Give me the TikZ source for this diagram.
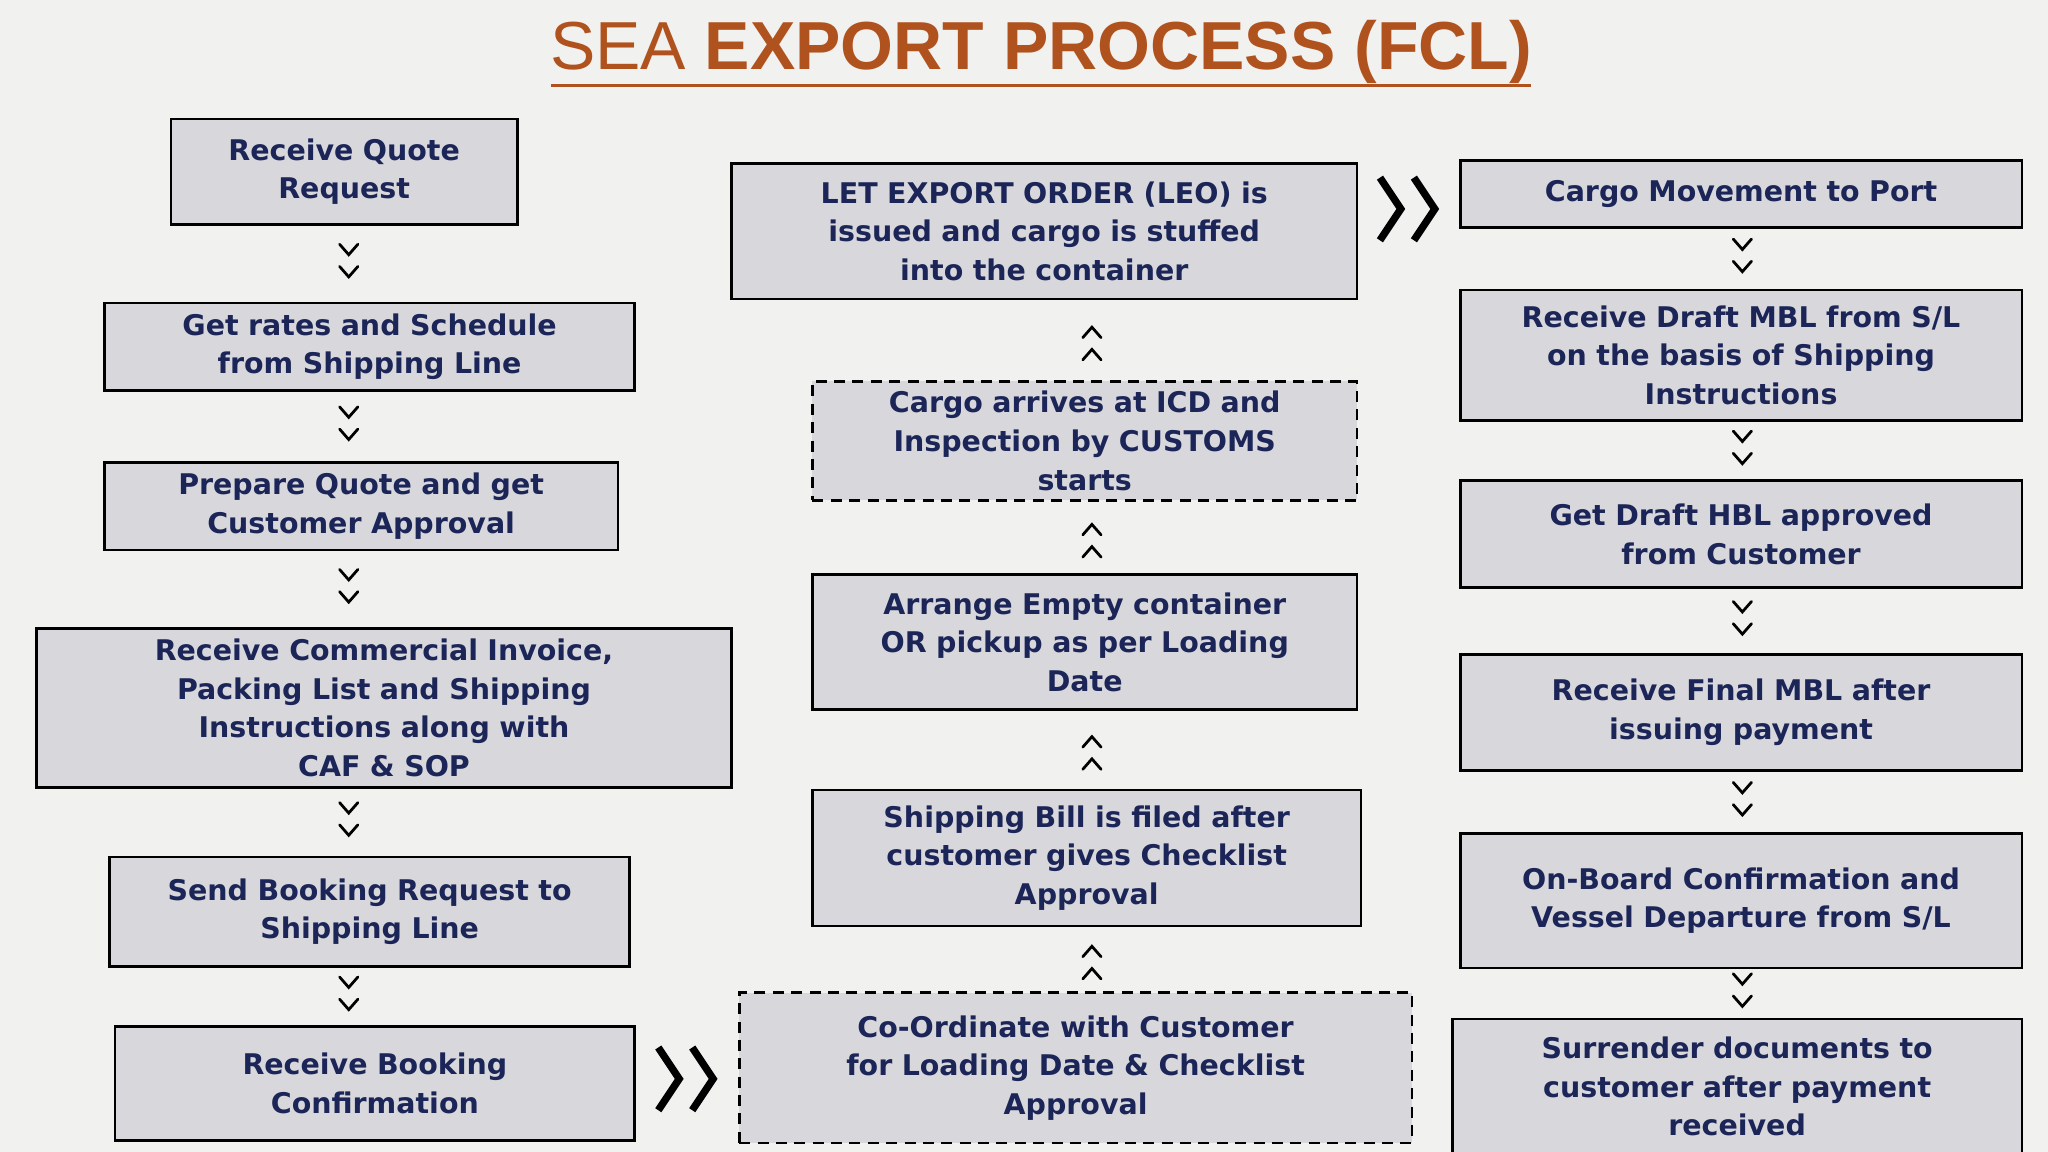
\documentclass[tikz,border=0pt]{standalone}
\usepackage{fontspec}
\setmainfont{DejaVu Sans}
\newfontfamily\titlefont{Liberation Sans}
\usetikzlibrary{calc}
\definecolor{navy}{HTML}{1C2557}
\definecolor{boxfill}{HTML}{D8D8DC}
\definecolor{bg}{HTML}{F1F1EF}
\definecolor{rust}{HTML}{B0521E}
\begin{document}
\begin{tikzpicture}[x=0.025cm,y=-0.025cm,
  bx/.style={draw=black,line width=1.4pt,fill=boxfill,text=navy,font=\bfseries\fontsize{15.5}{21}\selectfont,align=center,inner sep=0pt},
  dbx/.style={bx,dashed,dash pattern=on 6pt off 4pt},
  chev/.style={line width=1.5pt,line cap=round,line join=miter},
  dn/.pic={\draw[chev] (-7,-15)--(0,-7)--(7,-15); \draw[chev] (-7,2)--(0,10)--(7,2);},
  up/.pic={\draw[chev] (-7,15)--(0,7)--(7,15); \draw[chev] (-7,-2)--(0,-10)--(7,-2);},
  big/.pic={\draw[line width=4pt] (-22,-24)--(-6,0)--(-22,24); \draw[line width=4pt] (4,-24)--(20,0)--(4,24);}
]
\fill[bg] (0,0) rectangle (1568,882);
\useasboundingbox (0,0) rectangle (1568,882);
\node[text=rust,font=\titlefont\fontsize{37}{40}\selectfont] (title) at (797,40) {SEA \textbf{EXPORT PROCESS (FCL)}};
\draw[rust,line width=1.6pt] ($(title.south west)+(6,-4)$) -- ($(title.south east)+(-6,-4)$);
\def\bxn#1#2#3#4#5#6#7{\node[#1,minimum width={(#5-#3)*0.025cm},minimum height={(#6-#4)*0.025cm},text width={(#5-#3)*0.025cm-6pt}] (#2) at ({(#3+#5)/2},{(#4+#6)/2}) {#7};}
% left
\bxn{bx}{l1}{131}{91}{396}{172}{Receive Quote\\Request}
\bxn{bx}{l2}{80}{232}{486}{299}{Get rates and Schedule\\from Shipping Line}
\bxn{bx}{l3}{80}{354}{473}{421}{Prepare Quote and get\\Customer Approval}
\bxn{bx}{l4}{28}{481}{560}{603}{Receive Commercial Invoice,\\Packing List and Shipping\\Instructions along with\\CAF \& SOP}
\bxn{bx}{l5}{84}{656}{482}{740}{Send Booking Request to\\Shipping Line}
\bxn{bx}{l6}{88}{786}{486}{873}{Receive Booking\\Confirmation}
% middle
\bxn{bx}{m1}{560}{125}{1039}{229}{LET EXPORT ORDER (LEO) is\\issued and cargo is stuffed\\into the container}
\bxn{dbx}{m2}{622}{292}{1039}{383}{Cargo arrives at ICD and\\Inspection by CUSTOMS\\starts}
\bxn{bx}{m3}{622}{440}{1039}{543}{Arrange Empty container\\OR pickup as per Loading\\Date}
\bxn{bx}{m4}{622}{605}{1042}{709}{Shipping Bill is filed after\\customer gives Checklist\\Approval}
\bxn{dbx}{m5}{566}{760}{1081}{875}{Co-Ordinate with Customer\\for Loading Date \& Checklist\\Approval}
% right
\bxn{bx}{r1}{1118}{123}{1548}{174}{Cargo Movement to Port}
\bxn{bx}{r2}{1118}{222}{1548}{322}{Receive Draft MBL from S/L\\on the basis of Shipping\\Instructions}
\bxn{bx}{r3}{1118}{368}{1548}{450}{Get Draft HBL approved\\from Customer}
\bxn{bx}{r4}{1118}{501}{1548}{590}{Receive Final MBL after\\issuing payment}
\bxn{bx}{r5}{1118}{638}{1548}{741}{On-Board Confirmation and\\Vessel Departure from S/L}
\bxn{bx}{r6}{1112}{780}{1548}{884}{Surrender documents to\\customer after payment\\received}
% chevrons
\foreach \a/\b in {l1/l2,l2/l3,l3/l4,l4/l5,l5/l6}
  \path ($(\a.south)!0.5!(\b.north)$) ++(0,0) coordinate (c) ($(267,0)+(0,0)$) coordinate (d) let \p1=(c) in pic at (267*0.025cm,\y1) {dn};
\foreach \a/\b in {r1/r2,r2/r3,r3/r4,r4/r5,r5/r6}
  \path let \p1=($(\a.south)!0.5!(\b.north)$) in pic at (1334*0.025cm,\y1) {dn};
\foreach \a/\b in {m1/m2,m2/m3,m3/m4,m4/m5}
  \path let \p1=($(\a.south)!0.5!(\b.north)$) in pic at (836*0.025cm,\y1) {up};
\path let \p1=($(l6.east)!0.5!(m5.west)$) in pic at (\x1,826*-0.025cm) {big};
\path let \p1=($(m1.east)!0.5!(r1.west)$) in pic at (\x1,160*-0.025cm) {big};
\end{tikzpicture}
\end{document}
